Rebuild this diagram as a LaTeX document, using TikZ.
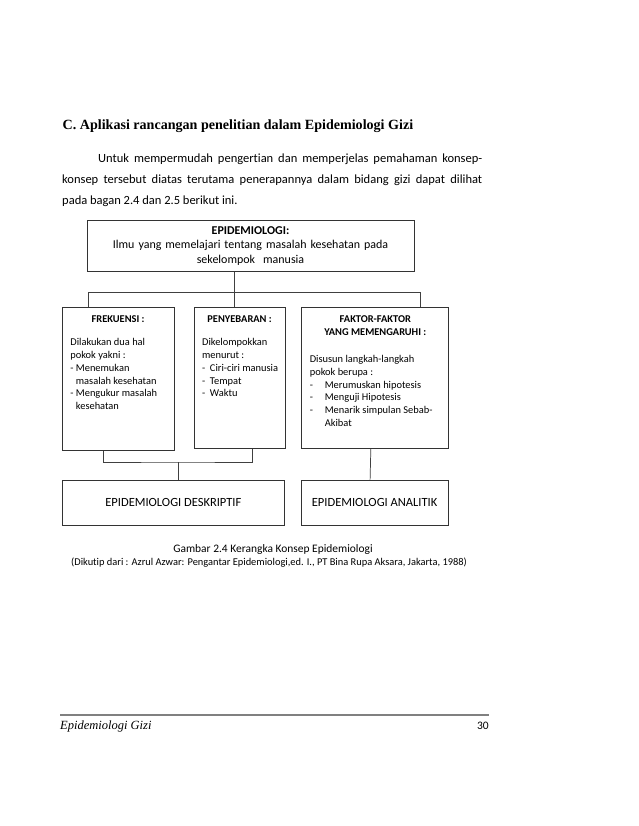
\documentclass[tikz,border=0pt]{standalone}
\usepackage{fontspec}
\setmainfont{Carlito}[Ligatures=NoCommon]
\newfontfamily\serifjudul{Liberation Serif}
\usetikzlibrary{positioning}
\newlength{\pxu}\setlength{\pxu}{0.96pt}
\tikzset{
  kotak/.style={draw=black!80, line width=0.7pt, inner xsep=8\pxu, inner ysep=0pt},
  garis/.style={draw=black!75, line width=0.7pt},
}
\newcommand{\isikotak}[3]{\parbox[c][#2\pxu][t]{#1\pxu}{\raggedright\fontsize{10}{12.3}\selectfont #3}}
\newcommand{\atas}{\rule{0pt}{15.5\pxu}}

\begin{document}
\begin{tikzpicture}[x=\pxu, y=-\pxu]
\useasboundingbox (0,0) rectangle (638,826);
% judul dan paragraf
\node[anchor=base west, inner sep=0] (judul) at (62.5,130) {\serifjudul\fontsize{13.5}{16}\selectfont\bfseries C. Aplikasi rancangan penelitian dalam Epidemiologi Gizi};
\node[anchor=base west, inner sep=0] (baris1) at (98,163) {\fontsize{12}{14}\selectfont\makebox[384\pxu][s]{Untuk mempermudah pengertian dan memperjelas pemahaman konsep-}};
\node[anchor=base west, inner sep=0] (baris2) at (62,183.5) {\fontsize{12}{14}\selectfont\makebox[420\pxu][s]{konsep tersebut diatas terutama penerapannya dalam bidang gizi dapat dilihat}};
\node[anchor=base west, inner sep=0] (baris3) at (62,204) {\fontsize{12}{14}\selectfont pada bagan 2.4 dan 2.5 berikut ini.};

% bagan
\node[kotak, minimum width=327\pxu, minimum height=51.7\pxu, text width=311\pxu, align=center, font=\fontsize{11.5}{14}\selectfont] (epi) at (250.5,246) {\textbf{EPIDEMIOLOGI:}\\Ilmu yang memelajari tentang masalah kesehatan pada\\sekelompok~ manusia};
\node[kotak, anchor=north west] (frek) at (62,307) {\isikotak{95.5}{143}{{\centering\atas\textbf{FREKUENSI :}\par}\vspace{10\pxu}
  Dilakukan dua hal\\pokok yakni :\\- Menemukan\\\phantom{- }masalah kesehatan\\- Mengukur masalah\\\phantom{- }kesehatan}};
\node[kotak, right=19.5\pxu of frek.north east, anchor=north west] (peny) {\isikotak{75}{141}{{\centering\atas\textbf{PENYEBARAN :}\par}\vspace{10\pxu}
  Dikelompokkan\\menurut :\\\mbox{-\ \ Ciri-ciri manusia}\\-\ \ Tempat\\-\ \ Waktu}};
\node[kotak, right=16\pxu of peny.north east, anchor=north west] (faktor) {\isikotak{131}{141}{{\centering\atas\textbf{FAKTOR-FAKTOR}\\\textbf{YANG MEMENGARUHI :}\par}\vspace{14\pxu}
  Disusun langkah-langkah\\pokok berupa :\\\makebox[15\pxu][l]{-}Merumuskan hipotesis\\\makebox[15\pxu][l]{-}Menguji Hipotesis\\\makebox[15\pxu][l]{-}Menarik simpulan Sebab-\\\hspace*{15\pxu}Akibat}};
\node[kotak, below=29\pxu of frek.south west, anchor=north west, minimum width=222\pxu, minimum height=45\pxu, font=\fontsize{12}{14}\selectfont] (desk) {EPIDEMIOLOGI DESKRIPTIF};
\node[kotak, right=16\pxu of desk.north east, anchor=north west, minimum width=147\pxu, minimum height=45\pxu, font=\fontsize{12}{14}\selectfont] (anal) {EPIDEMIOLOGI ANALITIK};

\coordinate (bus) at (234,292.7);
\coordinate (gab) at (178,462);
\draw[garis] (epi.south -| bus) -- (peny.north -| bus);
\draw[garis] ([xshift=-30\pxu]frek.north) |- (bus) -| ([xshift=45.5\pxu]faktor.north);
\draw[garis] ([xshift=-15\pxu]frek.south) |- (gab) -| ([xshift=12.5\pxu]peny.south);
\draw[garis] (gab) -- (gab |- desk.north);
\draw[garis] ([xshift=-4.5\pxu]faktor.south) -- ([xshift=-4.5\pxu]anal.north);

% keterangan gambar
\node[anchor=base, inner sep=0, font=\fontsize{11}{13}\selectfont] (ket) at (273,552) {Gambar 2.4 Kerangka Konsep Epidemiologi};
\node[anchor=base, inner sep=0, font=\fontsize{10}{12}\selectfont] (sumber) at (269,565) {(Dikutip dari : Azrul Azwar: Pengantar Epidemiologi,ed. I., PT Bina Rupa Aksara, Jakarta, 1988)};

% kaki halaman
\coordinate (kiri) at (60,715);
\coordinate (kanan) at (489,715);
\draw[black!50, line width=1.4pt] (kiri) -- (kanan);
\node[anchor=base west, inner sep=0] (kaki) at (60,729) {\serifjudul\itshape\fontsize{12}{14}\selectfont Epidemiologi Gizi};
\node[anchor=base east, inner sep=0] (hal) at (489,729) {\fontsize{11}{13}\selectfont 30};
\end{tikzpicture}
\end{document}
